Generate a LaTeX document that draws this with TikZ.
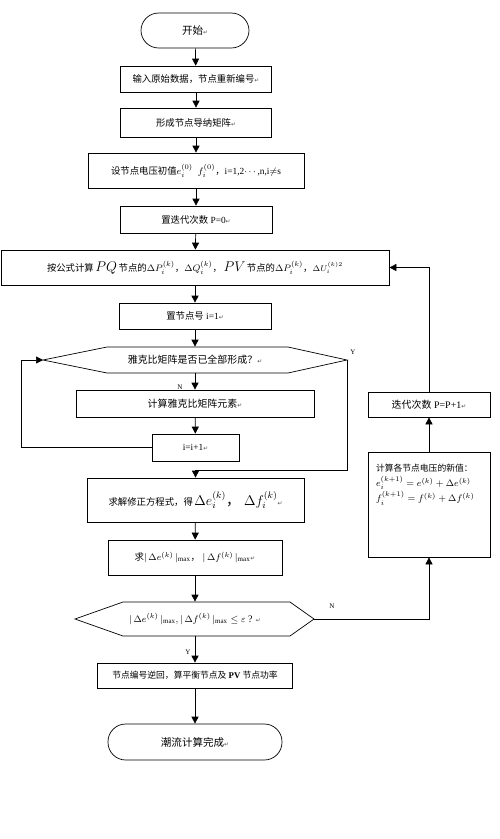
\documentclass[tikz,border=0pt]{standalone}
\usepackage{fontspec}
\usepackage{amsmath}
\setmainfont{Liberation Serif}
\newfontfamily\cjk{Noto Sans CJK SC}
\newfontfamily\symf{DejaVu Sans}
\usetikzlibrary{arrows.meta, calc}
\newcommand{\zh}[1]{{\cjk #1}}
\newcommand{\ret}{{\symf\fontsize{5}{5}\selectfont\color{black!70}↵}}
\tikzset{
  blk/.style  = {draw, rectangle, align=center, inner sep=2pt,
                 font=\fontsize{8}{10}\selectfont},
  term/.style = {draw, rectangle, rounded corners=5.3mm, inner sep=2pt,
                 font=\fontsize{9}{10}\selectfont},
  dec/.style  = {rectangle, inner sep=1pt, font=\fontsize{8.5}{10}\selectfont},
  ar/.style   = {-{Triangle[length=2.1mm, width=2.1mm]}},
  lbl/.style  = {font=\fontsize{6}{6}\selectfont, inner sep=1pt},
}

\begin{document}
\begin{tikzpicture}[x=0.3mm, y=-0.3mm, line width=0.6pt]
  \useasboundingbox (0,0) rectangle (500,839);
  % main column
  \node[term, minimum width=32.4mm, minimum height=10.5mm] (start) at (195,30.5) {\zh{开始}\ret};
  \node[blk, minimum width=45.3mm, minimum height=7.8mm] (b1) at (196,79) {\zh{输入原始数据，节点重新编号}\ret};
  \node[blk, minimum width=45.3mm, minimum height=8.7mm] (b2) at (196,122.5) {\zh{形成节点导纳矩阵}\ret};
  \node[blk, minimum width=64.8mm, minimum height=10.5mm] (b3) at (196,170.5)
    {\zh{设节点电压初值}$e_i^{(0)}$\; $f_i^{(0)}$\zh{，}i=1,2$\cdots$,n,i$\neq$s};
  \node[blk, minimum width=45.6mm, minimum height=8.1mm] (b4) at (196,219.5) {\zh{置迭代次数} P=0\ret};
  \node[blk, minimum width=116.4mm, minimum height=10.5mm] (b5) at (195,267.5)
    {\zh{按公式计算}\,{\large$PQ$}\,\zh{节点的}$\Delta P_i^{(k)}$\zh{，}$\Delta Q_i^{(k)}$\zh{，}\,{\large$PV$}\,\zh{节点的}$\Delta P_i^{(k)}$\zh{，}{\scriptsize$\Delta U_i^{(k)2}$}};
  \node[blk, minimum width=45.6mm, minimum height=7.8mm] (b6) at (195,316) {\zh{置节点号} i=1\ret};
  \node[dec, minimum height=7.8mm] (d1) at (195,360) {\zh{雅克比矩阵是否已全部形成？}\ret};
  \draw ($(d1.center)+(-152,0)$) coordinate (d1l) -- ++(64,-13) -- ++(181,0) -- ++(59,13) coordinate (d1r)
    -- ++(-59,13) -- ++(-181,0) -- cycle;
  \node[blk, minimum width=71.4mm, minimum height=8.1mm, font=\fontsize{8.5}{10}\selectfont] (b7) at (195,403.5) {\zh{计算雅克比矩阵元素}\ret};
  \node[blk, minimum width=26.1mm, minimum height=8.1mm] (b8) at (195.5,447.5) {i=i+1\ret};
  \node[blk, minimum width=65.1mm, minimum height=13.2mm] (b9) at (195.5,500)
    {\zh{求解修正方程式，得}\,{\large$\Delta e_i^{(k)}$\zh{，}\;$\Delta f_i^{(k)}$}\ret};
  \node[blk, minimum width=52.2mm, minimum height=10.5mm] (b10) at (195,557.5)
    {\zh{求}$|\,\Delta e^{(k)}\,|_{\max}$\zh{，}\;$|\,\Delta f^{(k)}\,|_{\max}$\ret};
  \node[dec, minimum height=10.2mm] (d2) at (195,619)
    {$|\,\Delta e^{(k)}\,|_{\max},|\,\Delta f^{(k)}\,|_{\max}\le\varepsilon$ ? \ret};
  \draw ($(d2.center)+(-120,0)$) coordinate (d2l) -- ++(48,-17) -- ++(167,0) -- ++(24,17) coordinate (d2r)
    -- ++(-24,17) -- ++(-167,0) -- cycle;
  \node[blk, minimum width=58.5mm, minimum height=7.5mm, font=\fontsize{7.5}{9}\selectfont] (b13) at (195,675.5)
    {\zh{节点编号逆回，算平衡节点及} \textbf{PV} \zh{节点功率}};
  \node[term, minimum width=52.2mm, minimum height=10.8mm] (stop) at (195,742) {\zh{潮流计算完成}\ret};
  % right column
  \node[blk, minimum width=36.6mm, minimum height=7.5mm, font=\fontsize{8.5}{10}\selectfont] (b11) at (429,404.5) {\zh{迭代次数} P=P+1\ret};
  \node[blk, minimum width=36.6mm, minimum height=31.5mm] (b12) at (429,504.5) {};
  \node[anchor=north west, align=left, inner sep=0pt, font=\fontsize{8.5}{13}\selectfont] (b12t) at ($(b12.north west)+(8,12)$)
    {{\fontsize{7.5}{9}\selectfont\zh{计算各节点电压的新值：}}\\
     $e_i^{(k+1)}=e^{(k)}+\Delta e^{(k)}$\\
     $f_i^{(k+1)}=f^{(k)}+\Delta f^{(k)}$};
  % connectors
  \draw[ar] (start) -- (b1);
  \draw[ar] (b1) -- (b2);
  \draw[ar] (b2) -- (b3);
  \draw[ar] (b3) -- (b4);
  \draw[ar] (b4) -- (b5);
  \draw[ar] (b5) -- (b6);
  \draw[ar] (b6) -- (d1);
  \draw[ar] (d1) -- (b7);
  \draw[ar] (b7) -- (b8);
  \draw[ar] (b8.west) -- ++(-130,0) |- (d1l);
  \draw[ar] (d1r) -- ++(0,110) -| (b9.north);
  \draw[ar] (b9) -- (b10);
  \draw[ar] (b10) -- (d2);
  \draw[ar] (d2) -- (b13);
  \draw[ar] (b13) -- (stop);
  \draw[ar] (d2r) -| (b12);
  \draw[ar] (b12) -- (b11);
  \draw[ar] (b11) |- (b5);
  % labels
  \node[lbl] (ly1) at (353,352) {Y};
  \node[lbl] (ln1) at (180,387) {N};
  \node[lbl] (ln2) at (332,606) {N};
  \node[lbl] (ly2) at (188,652) {Y};
\end{tikzpicture}
\end{document}
